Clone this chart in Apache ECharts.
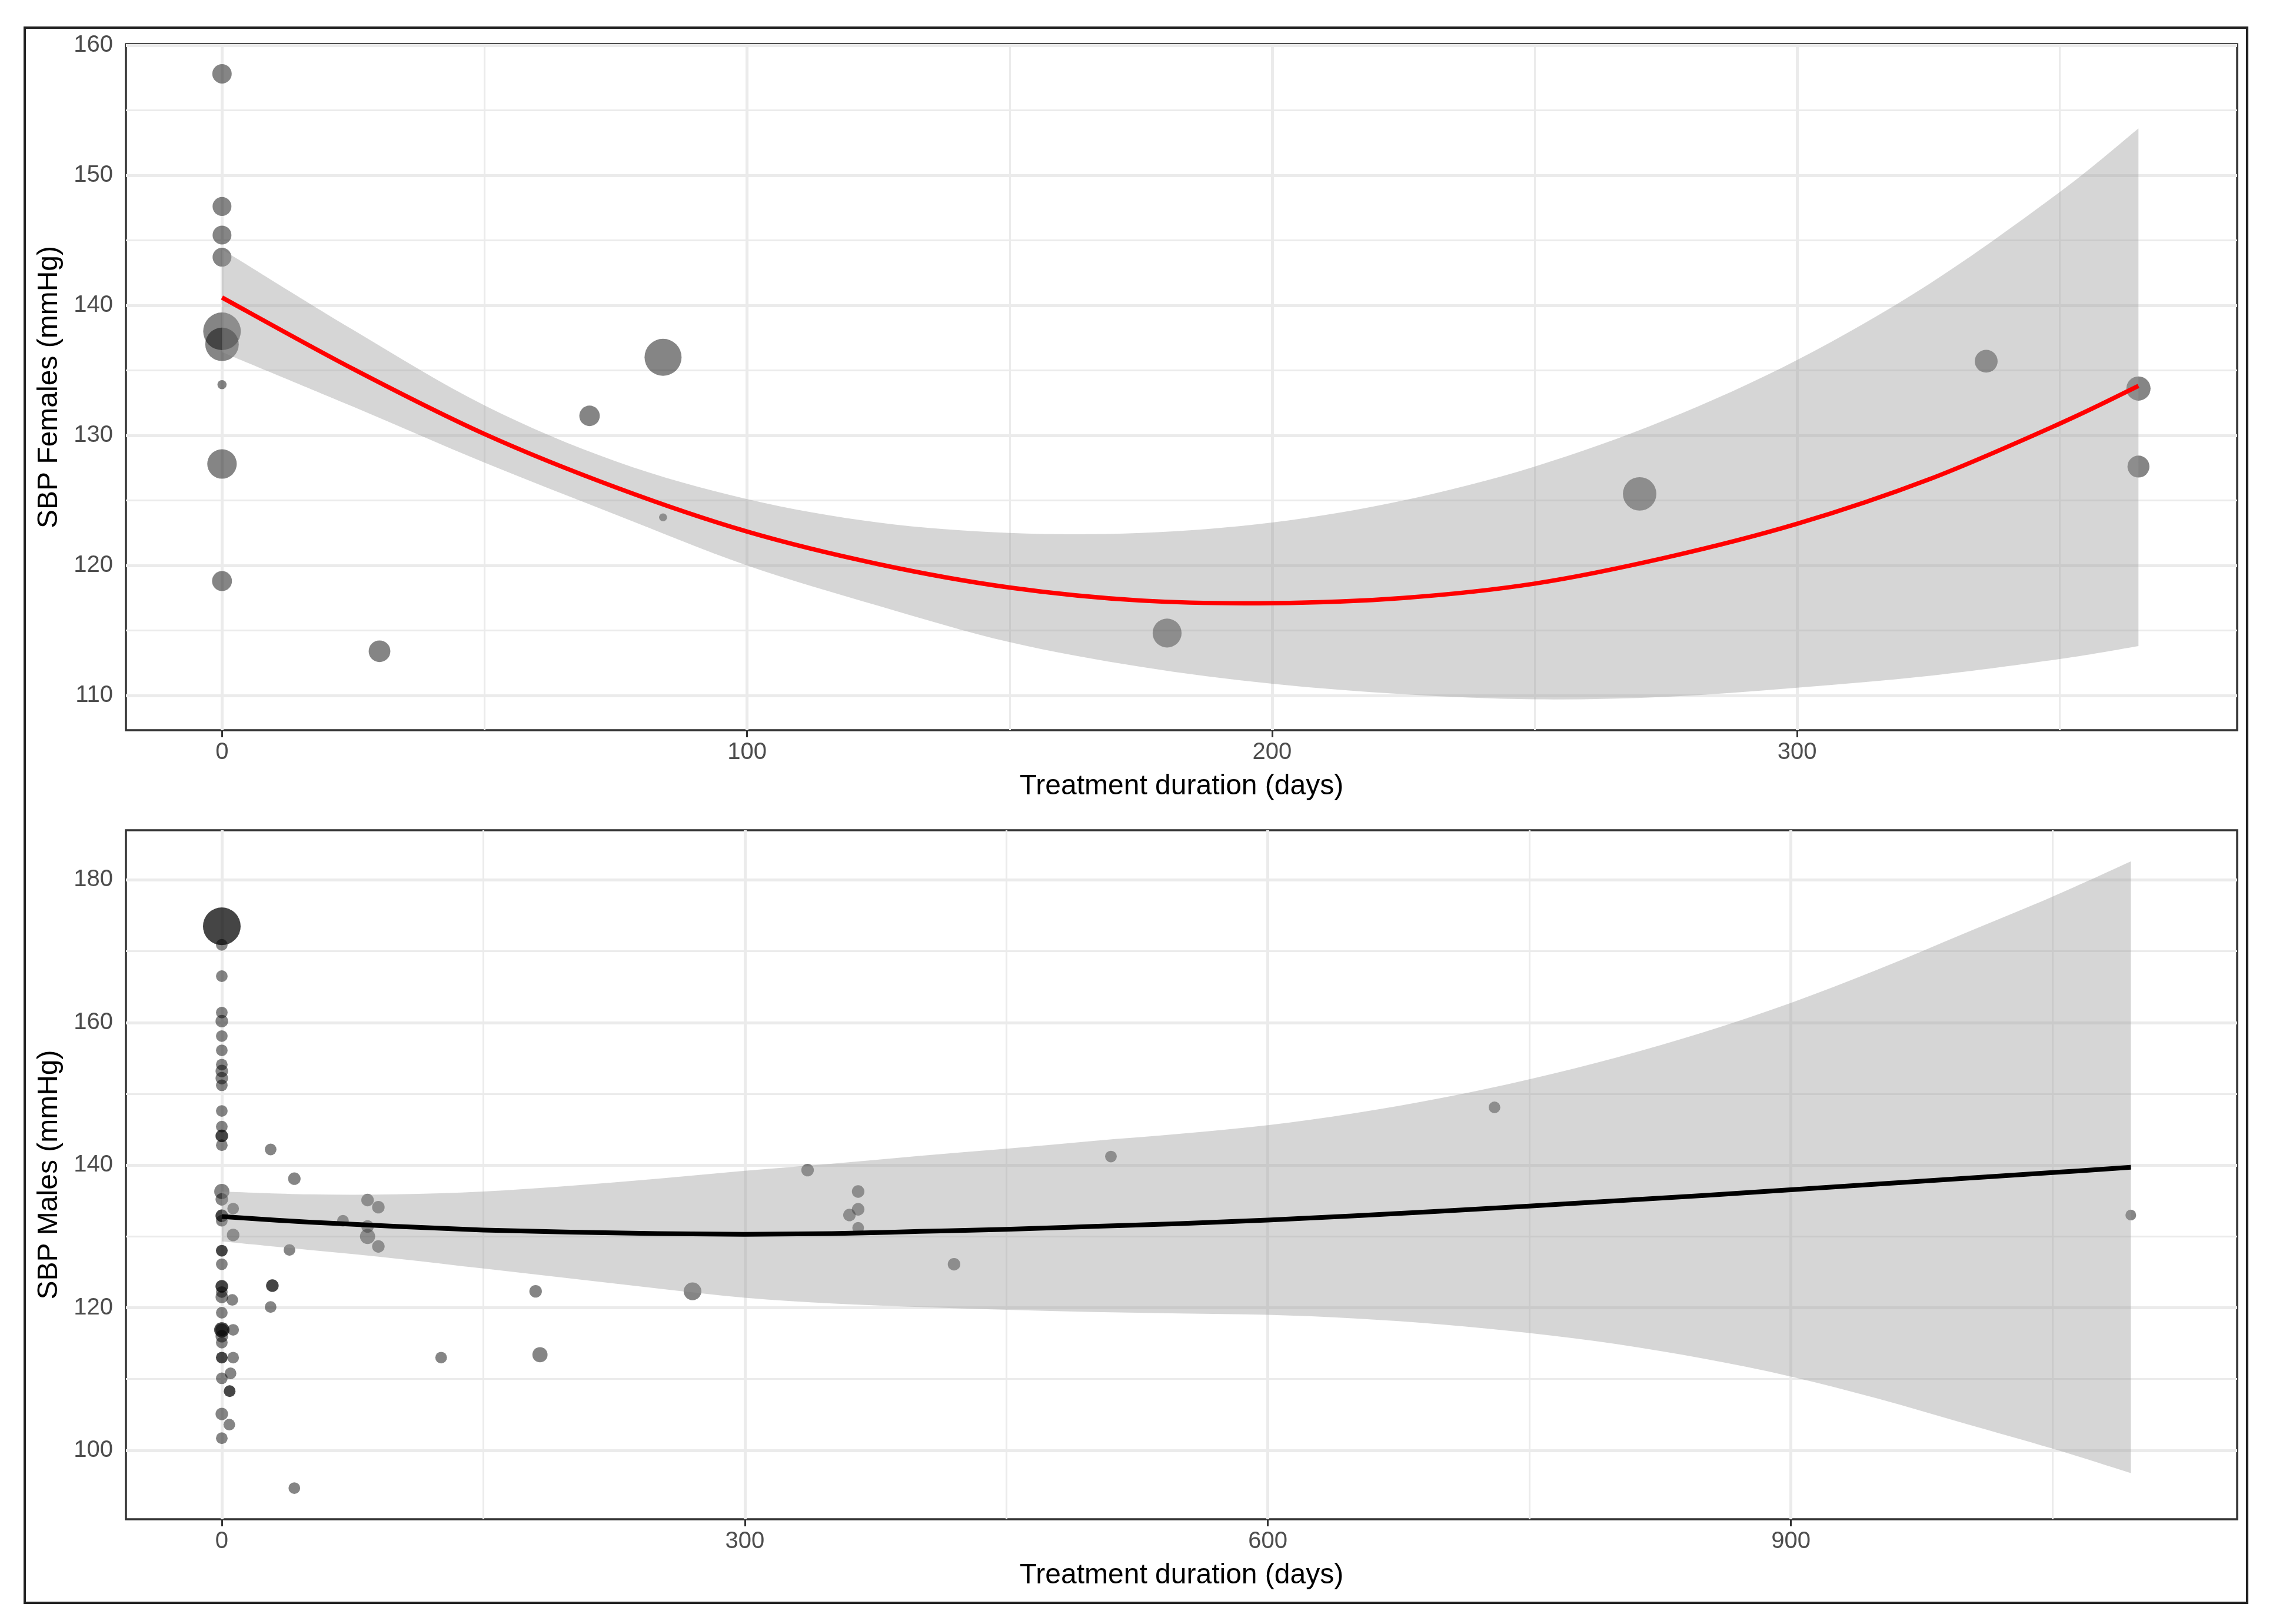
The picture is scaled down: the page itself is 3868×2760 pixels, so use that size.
<!DOCTYPE html>
<html>
<head>
<meta charset="utf-8">
<script src="https://cdn.jsdelivr.net/npm/echarts@6/dist/echarts.min.js"></script>
<style>
html, body { margin: 0; padding: 0; background: #fff; }
#chart { width: 3868px; height: 2760px; }
</style>
</head>
<body>
<div id="chart"></div>
<script>
// top panel: females, point size = weight
var femDays   = [0, 0, 0, 0, 0, 0, 0, 0, 0, 30, 70, 84, 84, 180, 270, 336, 365, 365];
var femSbp    = [157.8, 147.6, 145.4, 143.7, 138.0, 137.0, 133.9, 127.8, 118.8, 113.4, 131.5, 136.0, 123.7, 114.8, 125.5, 135.7, 133.6, 127.6];
var femWeight = [36, 34, 34, 34, 135, 107, 8, 83, 38, 45, 40, 131, 6, 80, 107, 50, 56, 46];

// smooth fit + confidence band
var femCurveDays = [0, 25, 50, 75, 100, 125, 150, 175, 200, 225, 250, 275, 300, 325, 350, 365];
var femFit   = [140.6, 135.1, 130.1, 126.0, 122.6, 120.1, 118.3, 117.3, 117.1, 117.5, 118.6, 120.6, 123.2, 126.6, 130.9, 133.8];
var femUpper = [144.3, 138.1, 132.3, 128.0, 125.1, 123.3, 122.5, 122.5, 123.3, 125.0, 127.6, 131.2, 135.8, 141.6, 148.7, 153.6];
var femLower = [136.4, 132.2, 127.9, 123.9, 120.0, 116.9, 114.1, 112.2, 110.9, 110.1, 109.7, 109.9, 110.6, 111.5, 112.8, 113.8];

// bottom panel: males
var maleDays = [
  0, 0, 0, 0, 0, 0, 0, 0, 0, 0, 0, 0, 0, 0, 0, 0, 0, 0, 0, 0,
  0, 0, 0, 0, 0, 0, 0, 0, 0, 0, 0, 0, 0, 0, 0, 0, 0, 0, 0, 0,
  6.5, 6.5, 6, 6.5, 6.5, 5, 4.5, 4.5, 4.3,
  28, 29, 29, 28, 41.6, 41.6, 38.8, 69.5, 83.6, 83.6, 83.6, 89.8, 89.8, 125.8,
  180, 182.5, 270, 336, 365, 365, 360, 365, 420, 510, 730, 1095
];
var maleSbp = [
  173.5, 173.5, 170.9, 166.5, 161.4, 160.2, 158.1, 156.1, 154.1, 153.2, 152.2, 151.2, 147.6, 145.4, 144.1, 144.1, 142.8, 136.3, 135.2, 132.9,
  132.9, 132.2, 128.0, 128.0, 126.1, 123.0, 123.0, 122.2, 121.5, 119.3, 116.9, 116.9, 116.9, 116.0, 115.1, 113.0, 113.0, 110.1, 105.1, 101.7,
  133.9, 130.2, 121.1, 116.9, 113.0, 110.8, 108.3, 108.3, 103.6,
  142.2, 123.1, 123.1, 120.1, 138.1, 94.7, 128.1, 132.2, 135.1, 131.4, 130.0, 134.1, 128.6, 113.0,
  122.3, 113.4, 122.3, 139.3, 136.3, 133.8, 133.0, 131.2, 126.1, 141.2, 148.1, 133.0
];
var maleWeight = [
  135, 135, 13, 13, 13, 15, 13, 13, 13, 15, 15, 13, 13, 13, 15, 15, 13, 22, 15, 15,
  15, 13, 13, 13, 13, 15, 15, 13, 15, 13, 22, 22, 15, 15, 13, 13, 13, 13, 15, 13,
  13, 15, 13, 13, 13, 13, 13, 13, 13,
  13, 15, 15, 13, 15, 13, 13, 13, 15, 15, 22, 15, 15, 13,
  15, 22, 30, 15, 15, 15, 15, 13, 15, 13, 13, 11
];

var maleCurveDays = [0, 50, 100, 150, 200, 250, 300, 350, 400, 450, 500, 550, 600, 650, 700, 750, 800, 850, 900, 950, 1000, 1050, 1095];
var maleFit   = [132.8, 132.0, 131.4, 130.9, 130.6, 130.4, 130.3, 130.4, 130.7, 131.0, 131.4, 131.8, 132.3, 132.9, 133.55, 134.25, 135.0, 135.75, 136.55, 137.35, 138.15, 138.95, 139.7];
var maleUpper = [136.3, 135.9, 135.9, 136.3, 137.1, 138.1, 139.2, 140.2, 141.3, 142.3, 143.4, 144.4, 145.6, 147.3, 149.45, 152.05, 155.1, 158.65, 162.75, 167.45, 172.55, 177.65, 182.6];
var maleLower = [129.3, 128.1, 126.9, 125.5, 124.1, 122.7, 121.4, 120.6, 120.1, 119.7, 119.4, 119.2, 119.0, 118.5, 117.65, 116.45, 114.9, 112.85, 110.35, 107.25, 103.75, 100.25, 96.8];

// ticks and grid lines
var femXTicks = [0, 100, 200, 300];
var femXMinor = [50, 150, 250, 350];
var femYTicks = [110, 120, 130, 140, 150, 160];
var femYMinor = [115, 125, 135, 145, 155];
var maleXTicks = [0, 300, 600, 900];
var maleXMinor = [150, 450, 750, 1050];
var maleYTicks = [100, 120, 140, 160, 180];
var maleYMinor = [110, 130, 150, 170];

var FONT = 'Liberation Sans, Arial, sans-serif';
var GRID_COL = '#ebebeb';

function gridLines(xMaj, xMin, yMaj, yMin) {
  var out = [];
  xMin.forEach(function (v) { out.push({ xAxis: v, lineStyle: { width: 3 } }); });
  yMin.forEach(function (v) { out.push({ yAxis: v, lineStyle: { width: 3 } }); });
  xMaj.forEach(function (v) { out.push({ xAxis: v, lineStyle: { width: 5 } }); });
  yMaj.forEach(function (v) { out.push({ yAxis: v, lineStyle: { width: 5 } }); });
  return out;
}

// catmull-rom through pixel points -> svg path segments
function curvePath(p, moveFirst) {
  var d = (moveFirst ? 'M' : 'L') + p[0][0] + ' ' + p[0][1];
  for (var i = 0; i < p.length - 1; i++) {
    var a = p[i - 1] || p[i], b = p[i], c = p[i + 1], e = p[i + 2] || c;
    var c1x = b[0] + (c[0] - a[0]) / 6, c1y = b[1] + (c[1] - a[1]) / 6;
    var c2x = c[0] - (e[0] - b[0]) / 6, c2y = c[1] - (e[1] - b[1]) / 6;
    d += 'C' + c1x + ' ' + c1y + ' ' + c2x + ' ' + c2y + ' ' + c[0] + ' ' + c[1];
  }
  return d;
}

function xAxisOpt(idx, min, max, ticks) {
  return {
    type: 'value', gridIndex: idx, min: min, max: max,
    axisLine: { show: false },
    axisTick: { show: true, customValues: ticks, length: 12, lineStyle: { color: '#333', width: 3 } },
    axisLabel: { customValues: ticks, fontSize: 40, color: '#4d4d4d', margin: 18, fontFamily: FONT },
    splitLine: { show: false },
    name: 'Treatment duration (days)', nameLocation: 'middle', nameGap: 72,
    nameTextStyle: { fontSize: 48, color: '#000', fontFamily: FONT }
  };
}
function yAxisOpt(idx, min, max, ticks, title) {
  return {
    type: 'value', gridIndex: idx, min: min, max: max,
    axisLine: { show: false },
    axisTick: { show: true, customValues: ticks, length: 12, lineStyle: { color: '#333', width: 3 } },
    axisLabel: { customValues: ticks, fontSize: 40, color: '#4d4d4d', margin: 22, fontFamily: FONT },
    splitLine: { show: false },
    name: title, nameLocation: 'middle', nameGap: 106, nameRotate: 90,
    nameTextStyle: { fontSize: 48, color: '#000', fontFamily: FONT }
  };
}

function panelSeries(idx, days, sbp, weight, cDays, fit, upper, lower, lineColor, lineWidth, grid) {
  var pts = days.map(function (d, i) { return [d, sbp[i], weight[i]]; });
  return [
    {
      type: 'scatter', xAxisIndex: idx, yAxisIndex: idx, z: 10, silent: true,
      data: pts,
      symbolSize: function (v) { return 5.5 * Math.sqrt(v[2]); },
      itemStyle: { color: 'rgba(0,0,0,0.6)' },
      markLine: {
        silent: true, symbol: 'none', z: 1, animation: false,
        label: { show: false },
        lineStyle: { color: GRID_COL, type: 'solid' },
        emphasis: { disabled: true },
        data: grid
      }
    },
    {
      // confidence band then fitted curve, both placed with api.coord
      type: 'custom', xAxisIndex: idx, yAxisIndex: idx, z: 11, silent: true,
      data: [[cDays[0], fit[0]]],
      renderItem: function (params, api) {
        var up = cDays.map(function (d, i) { return api.coord([d, upper[i]]); });
        var lo = cDays.map(function (d, i) { return api.coord([d, lower[i]]); }).reverse();
        var mid = cDays.map(function (d, i) { return api.coord([d, fit[i]]); });
        return {
          type: 'group',
          children: [
            {
              type: 'path', z2: 1,
              shape: { pathData: curvePath(up, true) + curvePath(lo, false) + 'Z' },
              style: { fill: 'rgba(153,153,153,0.4)', stroke: null }
            },
            {
              type: 'path', z2: 2,
              shape: { pathData: curvePath(mid, true) },
              style: { fill: null, stroke: lineColor, lineWidth: lineWidth }
            }
          ]
        };
      }
    }
  ];
}

var chart = echarts.init(document.getElementById('chart'), null, { renderer: 'canvas' });
chart.setOption({
  animation: false,
  backgroundColor: '#fff',
  textStyle: { fontFamily: FONT },
  graphic: [{
    type: 'rect', z: 100,
    shape: { x: 42, y: 47, width: 3777, height: 2677 },
    style: { fill: 'none', stroke: '#222', lineWidth: 4 }
  }],
  grid: [
    { left: 214, top: 75, width: 3588, height: 1166, show: true, borderColor: '#333', borderWidth: 3.5, backgroundColor: '#fff' },
    { left: 214, top: 1411, width: 3588, height: 1171, show: true, borderColor: '#333', borderWidth: 3.5, backgroundColor: '#fff' }
  ],
  xAxis: [
    xAxisOpt(0, -18.3, 383.8, femXTicks),
    xAxisOpt(1, -55, 1156, maleXTicks)
  ],
  yAxis: [
    yAxisOpt(0, 107.33, 160.08, femYTicks, 'SBP Females (mmHg)'),
    yAxisOpt(1, 90.33, 186.97, maleYTicks, 'SBP Males (mmHg)')
  ],
  series: [].concat(
    panelSeries(0, femDays, femSbp, femWeight, femCurveDays, femFit, femUpper, femLower, '#ff0000', 7.5,
      gridLines(femXTicks, femXMinor, femYTicks, femYMinor)),
    panelSeries(1, maleDays, maleSbp, maleWeight, maleCurveDays, maleFit, maleUpper, maleLower, '#000000', 8,
      gridLines(maleXTicks, maleXMinor, maleYTicks, maleYMinor))
  )
});
</script>
</body>
</html>
